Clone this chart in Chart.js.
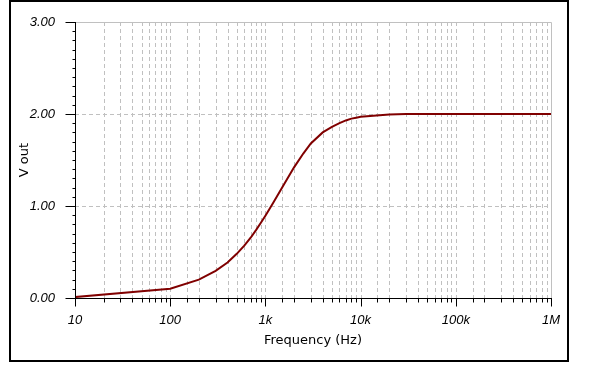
<!DOCTYPE html>
<html>
<head>
<meta charset="utf-8">
<script src="https://cdn.jsdelivr.net/npm/chart.js@4"></script>
<style>
  body { margin: 0; background: #fff; }
  canvas { display: block; }
</style>
</head>
<body>
<canvas id="bodeChart" width="592" height="366"></canvas>
<script>
// values
const frequencies = [10, 100, 200, 300, 400, 500, 600, 700, 800, 900, 1000, 1200, 1500, 2000, 2500, 3000, 4000, 5000, 6000, 7000, 8000, 9000, 10000, 20000, 30000, 100000, 1000000];
const vout = [0.01, 0.10, 0.20, 0.295, 0.385, 0.48, 0.57, 0.655, 0.74, 0.82, 0.895, 1.03, 1.20, 1.42, 1.57, 1.68, 1.80, 1.86, 1.90, 1.93, 1.95, 1.96, 1.97, 1.995, 2.0, 2.0, 2.0];
const xTickValues = [10, 100, 1000, 10000, 100000, 1000000];
const xTickLabels = ['10', '100', '1k', '10k', '100k', '1M'];
const yMajorValues = [0, 1, 2, 3];

const points = [];
for (let i = 0; i < frequencies.length; i++) {
    points.push({ x: frequencies[i], y: vout[i] });
}

const isMajorY = v => Math.abs(v - Math.round(v)) < 1e-6;
const isMajorX = v => xTickValues.some(t => Math.abs(t - v) / t < 1e-6);

const hline = (ctx, x1, x2, y) => {
    ctx.beginPath(); ctx.moveTo(x1, y); ctx.lineTo(x2, y); ctx.stroke();
};
const vline = (ctx, x, y1, y2) => {
    ctx.beginPath(); ctx.moveTo(x, y1); ctx.lineTo(x, y2); ctx.stroke();
};

const framePlugin = {
    id: 'frame',
    beforeDraw(chart) {
        const ctx = chart.ctx;
        ctx.save();
        ctx.fillStyle = '#fff';
        ctx.fillRect(0, 0, chart.width, chart.height);
        ctx.strokeStyle = '#000';
        ctx.lineWidth = 2;
        ctx.strokeRect(10, 1, 558, 360);
        ctx.restore();
    },
    beforeDatasetsDraw(chart) {
        const { ctx, chartArea: a, scales: { x, y } } = chart;
        ctx.save();
        ctx.strokeStyle = '#c0c0c0';
        ctx.lineWidth = 1;
        ctx.setLineDash([4, 3]);
        x.ticks.forEach(t => {
            if (t.value <= 10 || t.value >= 1000000) return;
            const px = Math.round(x.getPixelForValue(t.value)) + 0.5;
            vline(ctx, px, a.top, a.bottom);
        });
        yMajorValues.forEach(v => {
            if (v <= 0 || v >= 3) return;
            const py = Math.round(y.getPixelForValue(v)) + 0.5;
            hline(ctx, a.left, a.right, py);
        });
        ctx.setLineDash([]);
        const top = Math.round(y.getPixelForValue(3)) + 0.5;
        const right = Math.round(x.getPixelForValue(1000000)) + 0.5;
        hline(ctx, a.left, right, top);
        vline(ctx, right, top, a.bottom);
        ctx.restore();
    },
    afterDraw(chart) {
        const { ctx, scales: { x, y } } = chart;
        const ax = Math.round(x.getPixelForValue(10)) + 0.5;
        const ay = Math.round(y.getPixelForValue(0)) + 0.5;
        const right = Math.round(x.getPixelForValue(1000000)) + 0.5;
        const top = Math.round(y.getPixelForValue(3));
        ctx.save();
        ctx.strokeStyle = '#000';
        ctx.lineWidth = 1;
        hline(ctx, ax, right + 0.5, ay);
        vline(ctx, ax, top, ay + 4);
        x.ticks.forEach(t => {
            const px = Math.round(x.getPixelForValue(t.value)) + 0.5;
            vline(ctx, px, ay, ay + (isMajorX(t.value) ? 8 : 4));
        });
        y.ticks.forEach(t => {
            const py = Math.round(y.getPixelForValue(t.value)) + 0.5;
            hline(ctx, ax - (isMajorY(t.value) ? 10 : 3), ax, py);
        });
        ctx.restore();
    }
};

new Chart(document.getElementById('bodeChart'), {
    type: 'line',
    data: {
        datasets: [{
            label: 'V out',
            data: points,
            borderColor: '#800000',
            borderWidth: 2,
            pointRadius: 0,
            tension: 0,
            fill: false
        }]
    },
    options: {
        responsive: false,
        animation: false,
        layout: { padding: { left: 0, right: 41, top: 22, bottom: 0 } },
        plugins: {
            legend: { display: false },
            tooltip: { enabled: false }
        },
        scales: {
            x: {
                type: 'logarithmic',
                min: 10,
                max: 1000000,
                grid: { display: false },
                border: { display: false },
                afterFit: scale => { scale.height = 68; },
                ticks: {
                    autoSkip: false,
                    maxRotation: 0,
                    padding: 7,
                    color: '#000',
                    font: { family: 'Liberation Sans', size: 13, style: 'italic' },
                    callback: value => {
                        const i = xTickValues.findIndex(t => Math.abs(t - value) / t < 1e-6);
                        return i >= 0 ? xTickLabels[i] : '';
                    }
                },
                title: {
                    display: true,
                    text: 'Frequency (Hz)',
                    color: '#000',
                    font: { family: 'DejaVu Sans', size: 13 },
                    padding: { top: 0, bottom: 18 }
                }
            },
            y: {
                min: 0,
                max: 3,
                grid: { display: false },
                border: { display: false },
                afterFit: scale => { scale.width = 75; },
                ticks: {
                    stepSize: 0.1,
                    autoSkip: false,
                    padding: 12,
                    color: '#000',
                    font: { family: 'Liberation Sans', size: 13, style: 'italic' },
                    callback: value => isMajorY(value) ? value.toFixed(2) : ''
                },
                title: {
                    display: true,
                    text: 'V out',
                    color: '#000',
                    font: { family: 'DejaVu Sans', size: 13 },
                    padding: { top: 17, bottom: 0 }
                }
            }
        }
    },
    plugins: [framePlugin]
});
</script>
</body>
</html>
